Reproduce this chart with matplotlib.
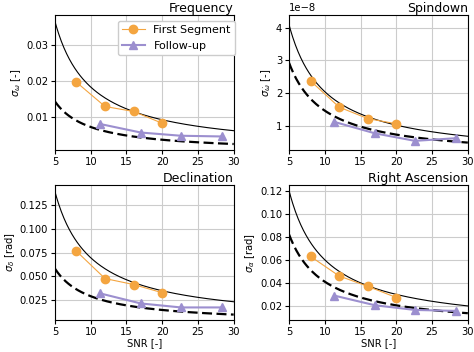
import numpy as np
import matplotlib
matplotlib.use("Agg")
import matplotlib.pyplot as plt

plt.rcParams['font.size'] = 7.2

# donnees
snr_first = [8, 12, 16, 20]
snr_follow = [11.3, 17, 22.6, 28.3]

freq_first = [0.0197, 0.0129, 0.0115, 0.0082]
freq_follow = [0.0080, 0.0056, 0.0047, 0.0045]
spin_first = [2.37e-8, 1.57e-8, 1.22e-8, 1.06e-8]
spin_follow = [1.12e-8, 0.77e-8, 0.54e-8, 0.62e-8]
dec_first = [0.0764, 0.0476, 0.0413, 0.0327]
dec_follow = [0.032, 0.0214, 0.0172, 0.0172]
ra_first = [0.063, 0.046, 0.037, 0.0273]
ra_follow = [0.029, 0.0206, 0.0165, 0.0157]

# constantes des courbes c / SNR (trait plein, tirets)
bound_solid = [0.1835, 20.4e-8, 0.695, 0.60]
bound_dashed = [0.0715, 14.6e-8, 0.29, 0.41]

titles = ["Frequency", "Spindown", "Declination", "Right Ascension"]
ylabels = [r"$\sigma_\omega$ [-]", r"$\sigma_{\dot{\omega}}$ [-]",
           r"$\sigma_\delta$ [rad]", r"$\sigma_\alpha$ [rad]"]
ylims = [(0.0007, 0.0385), (0.26e-8, 4.38e-8), (0.004, 0.146), (0.0078, 0.125)]

firsts = [freq_first, spin_first, dec_first, ra_first]
follows = [freq_follow, spin_follow, dec_follow, ra_follow]

orange = '#f4a540'
purple = '#9c8fcf'

fig, axes = plt.subplots(2, 2, figsize=(4.74, 3.52), dpi=100)
fig.subplots_adjust(left=0.116, right=0.987, top=0.957, bottom=0.091,
                    wspace=0.31, hspace=0.26)

snr = np.linspace(5, 30, 200)
for i, ax in enumerate(axes.flat):
    ax.plot(snr, bound_solid[i] / snr, color='black', lw=0.8)
    ax.plot(snr, bound_dashed[i] / snr, color='black', lw=1.6, ls='--', dashes=(4.5, 2))
    ax.plot(snr_first, firsts[i], color=orange, marker='o', ms=6, lw=0.8,
            label='First Segment')
    ax.plot(snr_follow, follows[i], color=purple, marker='^', ms=6, lw=1.5,
            label='Follow-up')
    ax.set_xlim(5, 30)
    ax.set_ylim(*ylims[i])
    ax.set_xticks([5, 10, 15, 20, 25, 30])
    ax.grid(True, color='#cccccc', lw=0.8)
    ax.set_axisbelow(True)
    ax.set_title(titles[i], loc='right', fontsize=9, pad=2)
    ax.set_ylabel(ylabels[i], labelpad=2)
    ax.tick_params(length=3, pad=2)
    if i >= 2:
        ax.set_xlabel("SNR [-]", labelpad=1)

axes[0, 1].set_yticks([1e-8, 2e-8, 3e-8, 4e-8])
axes[1, 0].set_yticks([0.025, 0.05, 0.075, 0.1, 0.125])
axes[1, 1].set_yticks([0.02, 0.04, 0.06, 0.08, 0.10, 0.12])

axes[0, 0].legend(loc='upper right', bbox_to_anchor=(1.04, 1.0), fontsize=8,
                  framealpha=1.0)

fig.savefig('out.png', dpi=100)
